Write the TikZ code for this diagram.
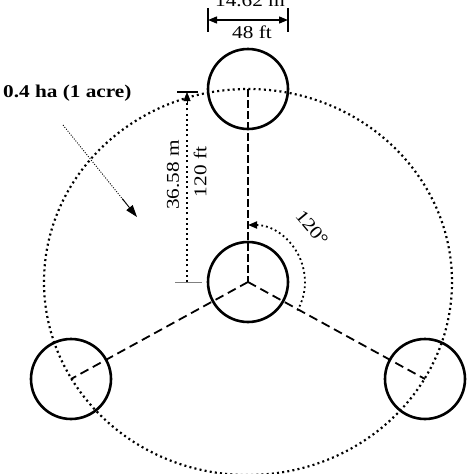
\documentclass[tikz,border=0pt]{standalone}
\usepackage{fontspec}
\setmainfont{Liberation Serif}
\usepackage{graphicx}
\usetikzlibrary{arrows.meta,calc}
\newcommand{\sxx}[1]{\scalebox{1.18}[1]{#1}}
\begin{document}
\begin{tikzpicture}[x=1pt,y=-1pt,
  hole/.style={circle,draw,line width=2.6pt,minimum size=80pt,inner sep=0pt},
  lbl/.style={font=\fontsize{18}{21}\selectfont,inner sep=0pt},
  dotline/.style={line width=2.2pt,dash pattern=on 2pt off 3.2pt},
  spoke/.style={line width=1.8pt,dash pattern=on 9pt off 5pt},
  vdash/.style={line width=2.6pt,dash pattern=on 8pt off 3pt},
  tip/.style={-{Triangle[length=9pt,width=7pt]}}
]
\useasboundingbox (0,0) rectangle (474,474);
\fill[white] (0,0) rectangle (474,474);
% nodes
\coordinate (C0) at (248,282);
\node[hole] (T) at (248,89) {};
\node[hole] (C) at (248,282) {};
\node[hole] (L) at (71,379) {};
\node[hole] (R) at (425,379) {};
% big dotted boundary
\draw[dotline] (C0) ellipse [x radius=204, y radius=193];
% spokes
\draw[vdash] (T.center) -- (C.center);
\draw[spoke] (C.center) -- (L.center);
\draw[spoke] (C.center) -- (R.center);
% 120 degree arc
\draw[line width=1.8pt,dash pattern=on 1.8pt off 3pt,{Triangle[length=9pt,width=7pt]}-] (248,225) arc[start angle=-90,end angle=30,radius=57];
\node[lbl,rotate=-50] (ang) at (312,228) {\sxx{120\textdegree}};
% vertical dimension
\coordinate (vt) at (187,92);
\coordinate (vb) at (187,282);
\draw[line width=2.2pt] (177,92) -- (198,92);
\draw[line width=1pt,gray] (175,282) -- (202,282);
\draw[dotline,line width=2pt] (vb) -- (187,100);
\draw[tip] (187,103) -- (vt);
\node[lbl,rotate=90] (m1) at (173,175) {\sxx{36.58 m}};
\node[lbl,rotate=90] (m2) at (200,172) {\sxx{120 ft}};
% top dimension
\coordinate (ha) at (208,20);
\coordinate (hb) at (288,20);
\draw[line width=2.6pt] (208,8) -- (208,32);
\draw[line width=2.6pt] (288,8) -- (288,32);
\draw[line width=1.4pt,{Triangle[length=9pt,width=7pt]}-{Triangle[length=9pt,width=7pt]}] (ha) -- (hb);
\node[lbl,anchor=base] (w1) at (250,6) {\sxx{14.62 m}};
\node[lbl,anchor=base] (w2) at (252,38) {\sxx{48 ft}};
% area label
\node[lbl,anchor=west] (area) at (3,93) {\sxx{\bfseries 0.4 ha (1 acre)}};
\coordinate (a1) at (63,125);
\coordinate (a2) at (137,217);
\draw[line width=0.9pt,dash pattern=on 1pt off 1.5pt] (a1) -- ($(a1)!0.85!(a2)$);
\draw[-{Triangle[length=12pt,width=8pt]},line width=0.9pt] ($(a1)!0.8!(a2)$) -- (a2);
\end{tikzpicture}
\end{document}
